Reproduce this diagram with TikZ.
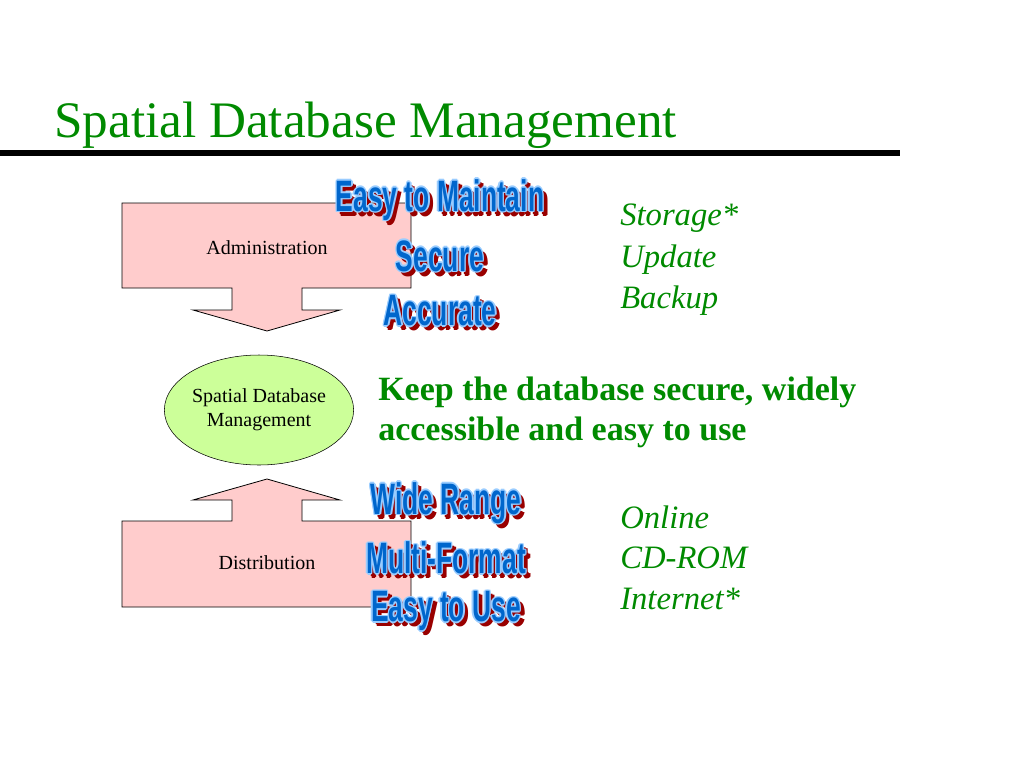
\documentclass[tikz,border=0pt]{standalone}
\usepackage{fontspec}
\usetikzlibrary{shapes.geometric}
\setmainfont{Liberation Serif}
\newfontfamily\wafont{Liberation Sans}
\definecolor{tgreen}{HTML}{008A00}
\definecolor{pinkf}{HTML}{FFCCCC}
\definecolor{ellf}{HTML}{CCFF99}
\definecolor{wablue}{HTML}{0066CC}
\definecolor{walight}{HTML}{99CCFF}
\definecolor{wared}{HTML}{990000}
\newcommand{\wa}[3]{%
 \foreach \dx/\dy in {3/3,4/4,5/4,4/5}{\node[wabase,text=wared] at ([xshift=\dx*0.75pt,yshift=-\dy*0.75pt]#1) {#3};}
 \foreach \dx/\dy in {-1.5/0,1.5/0,0/1.5,0/-1.5,1/1,-1/1,1/-1,-1/-1}{\node[wabase,text=walight] at ([xshift=\dx*0.75pt,yshift=\dy*0.75pt]#1) {#3};}
 \node[wabase,text=wablue] (#2) at (#1) {#3};}
\begin{document}
\begin{tikzpicture}[x=0.75pt,y=-0.75pt,
 wabase/.style={font=\wafont\bfseries\fontsize{33}{33}\selectfont,xscale=0.6,inner sep=0},
 callout/.style={draw=black,fill=pinkf,line width=0.6pt},
 gitem/.style={anchor=west,text=tgreen,font=\itshape\fontsize{24.5}{26}\selectfont,inner sep=0}]
\useasboundingbox (0,0) rectangle (1024,768);
\node[anchor=base west,text=tgreen,font=\fontsize{38.4}{42}\selectfont,inner sep=0] (title) at (54,137) {Spatial Database Management};
\draw[line width=3.8pt] (0,153) coordinate (l1) -- (900,153) coordinate (l2);
\draw[callout] (122,203) -- (411,203) -- (411,288) -- (302,288) -- (302,310) -- (340,310) -- (267,331) -- (193,310) -- (232,310) -- (232,288) -- (122,288) -- cycle;
\node[font=\fontsize{15}{17}\selectfont] (adm) at (267,248) {Administration};
\draw[callout] (122,607) -- (411,607) -- (411,521) -- (302,521) -- (302,500) -- (340,500) -- (267,479) -- (193,500) -- (232,500) -- (232,521) -- (122,521) -- cycle;
\node[font=\fontsize{15}{17}\selectfont] (dist) at (267,563) {Distribution};
\node[ellipse,draw,fill=ellf,minimum width=188*0.75pt,minimum height=110*0.75pt,align=center,font=\fontsize{15}{18}\selectfont,inner sep=0] (sdm) at (259,410) {Spatial Database\\Management};
\node[anchor=north west,text=tgreen,font=\bfseries\fontsize{25.5}{30}\selectfont,align=left,inner sep=0] (keep) at (378,377) {Keep the database secure, widely\\accessible and easy to use};
\node[gitem] (s1) at (620,218) {Storage*};
\node[gitem] (s2) at (620,260) {Update};
\node[gitem] (s3) at (620,301) {Backup};
\node[gitem] (d1) at (620,517) {Online};
\node[gitem] (d2) at (620,558) {CD-ROM};
\node[gitem] (d3) at (620,599) {Internet*};
\wa{440,200}{w1}{Easy to Maintain}
\wa{440,256}{w2}{Secure}
\wa{440,311}{w3}{Accurate}
\wa{446,503}{w4}{Wide Range}
\wa{446,558}{w5}{Multi-Format}
\wa{446,611}{w6}{Easy to Use}
\end{tikzpicture}
\end{document}
